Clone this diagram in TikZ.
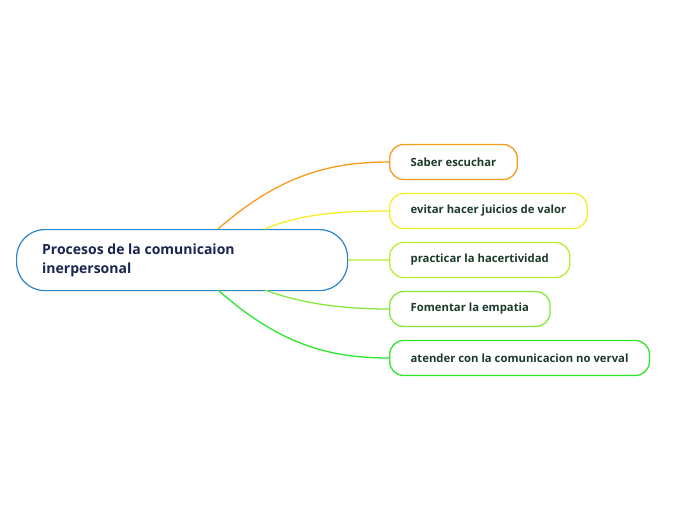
\documentclass[tikz,border=0pt]{standalone}
\usepackage{fontspec}
\setmainfont{Open Sans}
\definecolor{corg}{HTML}{F79A1E}
\definecolor{cyel}{HTML}{F2EE2A}
\definecolor{cyg}{HTML}{B8EE2E}
\definecolor{clg}{HTML}{86E83A}
\definecolor{cgr}{HTML}{2EE62E}
\definecolor{cblue}{HTML}{2E86C8}
\definecolor{ctxt}{HTML}{1C3A2A}
\definecolor{cnavy}{HTML}{1A2550}
\begin{document}
\begin{tikzpicture}[x=1pt,y=-1pt,
  child/.style={draw=#1,line width=1.3pt,rounded corners=14pt,fill=white,minimum height=35pt,anchor=west,inner xsep=21pt,font=\bfseries\fontsize{11.3}{13}\selectfont,text=ctxt},
  conn/.style={draw=#1,line width=1.3pt}]
\useasboundingbox (0,0) rectangle (696,520);
\node[draw=cblue,line width=1.2pt,rounded corners=28pt,fill=white,minimum width=331pt,minimum height=61pt,anchor=north west,inner sep=0pt] (c) at (16,229) {};
\node[anchor=west,align=left,text=cnavy,font=\bfseries\fontsize{14}{19}\selectfont,inner sep=0pt] (ct) at (42,260) {Procesos de la comunicaion\\inerpersonal};
\node[child=corg] (a) at (389,162) {Saber escuchar};
\node[child=cyel] (b) at (389,211) {evitar hacer juicios de valor};
\node[child=cyg] (d) at (389,260) {practicar la hacertividad};
\node[child=clg] (e) at (389,309) {Fomentar la empatia};
\node[child=cgr] (f) at (389,358) {atender con la comunicacion no verval};
\coordinate (p1) at (218,229);
\coordinate (p2) at (265,229);
\coordinate (p4) at (265,290);
\coordinate (p5) at (218,290);
\draw[conn=corg] (p1) .. controls (280,175) and (330,162) .. (a.west);
\draw[conn=cyel] (p2) .. controls (300,214) and (340,211) .. (b.west);
\draw[conn=cyg] (c.east) -- (d.west);
\draw[conn=clg] (p4) .. controls (300,303) and (340,309) .. (e.west);
\draw[conn=cgr] (p5) .. controls (280,345) and (330,358) .. (f.west);
\end{tikzpicture}
\end{document}
